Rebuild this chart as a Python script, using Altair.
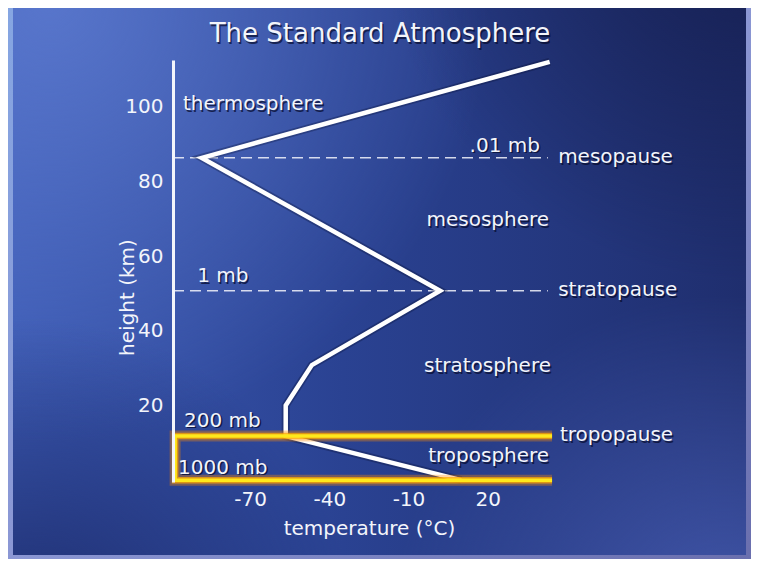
import altair as alt
import pandas as pd

# ---- data ----
# temperature profile (°C) vs height (km)
profile_temp = [10, -56.5, -56.5, -46.6, 2, -88.3, 43.5]
profile_height = [0, 11.8, 20, 30.8, 50.7, 86.3, 112]

# pause levels drawn as dashed lines
pause_heights = [86.3, 50.7]
pause_t_start = -99.2
pause_t_end = 42.8

# troposphere bracket
tropopause_height = 11.8
ground_height = 0
bracket_left = -98.4
bracket_right = 44.4

x_ticks = [-70, -40, -10, 20]
y_ticks = [20, 40, 60, 80, 100]
x_domain = [-99.2, 44.0]
y_domain = [-0.5, 112.5]

# annotations (anchor in temperature / height units)
left_labels = ["thermosphere", "mesopause", "1 mb", "stratopause", "200 mb", "tropopause", "1000 mb"]
left_temp = [-95.4, 46.7, -90.0, 46.7, -95.0, 47.4, -97.3]
left_height = [100.7, 86.4, 54.6, 50.8, 15.9, 12.0, 3.3]

right_labels = [".01 mb", "mesosphere", "stratosphere", "troposphere"]
right_temp = [39.8, 43.3, 44.0, 43.3]
right_height = [89.5, 69.6, 30.5, 6.4]

title_text = "The Standard Atmosphere"

# ---- tables ----
profile = pd.DataFrame({"t": profile_temp, "h": profile_height, "i": list(range(len(profile_temp)))})
pauses = pd.DataFrame({"t": [pause_t_start] * len(pause_heights), "t2": [pause_t_end] * len(pause_heights), "h": pause_heights})
bracket = pd.DataFrame({
    "t": [bracket_right, bracket_left, bracket_left, bracket_right],
    "h": [tropopause_height, tropopause_height, ground_height, ground_height],
    "i": [0, 1, 2, 3],
})
lefts = pd.DataFrame({"t": left_temp, "h": left_height, "label": left_labels})
rights = pd.DataFrame({"t": right_temp, "h": right_height, "label": right_labels})
one = pd.DataFrame({"title": [title_text]})

FONT = "DejaVu Sans"
WHITE = "#f3f5fb"
SHADOW = "#070c2e"

xscale = alt.Scale(domain=x_domain, nice=False, zero=False)
yscale = alt.Scale(domain=y_domain, nice=False, zero=False)

xaxis = alt.Axis(
    values=x_ticks, title="temperature (°C)", domain=False, ticks=False, tickSize=0, grid=False,
    labelColor=WHITE, labelFont=FONT, labelFontSize=20, labelPadding=7, labelFlush=False,
    labelExpr="datum.value + ''",
    titleColor=WHITE, titleFont=FONT, titleFontSize=20, titleFontWeight="normal",
    titlePadding=9, titleX=196, zindex=2,
)
yaxis = alt.Axis(
    values=y_ticks, title="height (km)", domain=True, domainColor=WHITE, domainWidth=3,
    ticks=False, tickSize=0, grid=False,
    labelColor=WHITE, labelFont=FONT, labelFontSize=20, labelPadding=10, labelFlush=False,
    titleColor=WHITE, titleFont=FONT, titleFontSize=20, titleFontWeight="normal",
    titleX=-46, titleY=237, titleAngle=270, titleBaseline="middle", titleAlign="center", zindex=2,
)

X = alt.X("t:Q", scale=xscale, axis=xaxis)
Y = alt.Y("h:Q", scale=yscale, axis=yaxis)


def stop(c, o):
    return alt.GradientStop(color=c, offset=o)


def bg_rect(fill, x0, x1, y0, y1):
    return alt.Chart(one).mark_rect(fill=fill, strokeWidth=0).encode(
        x=alt.value(x0), x2=alt.value(x1), y=alt.value(y0), y2=alt.value(y1)
    )


# outer frame and inner panel (view coordinates, view origin at page (173, 60))
frame = bg_rect(
    alt.LinearGradient(gradient="linear", x1=0, y1=0, x2=1, y2=1,
                       stops=[stop("#86a6e2", 0), stop("#8b97d4", 0.5), stop("#6a6fae", 1)]),
    -165, 578, -52, 499)
panel = bg_rect(
    alt.LinearGradient(gradient="linear", x1=0, y1=0.5, x2=1, y2=0.5,
                       stops=[stop("#3c5ab3", 0), stop("#2a4292", 0.45), stop("#1f2e6e", 1)]),
    -160, 573, -52, 495)
glow_tl = bg_rect(
    alt.RadialGradient(gradient="radial", x1=0.05, y1=0.12, r1=0, x2=0.05, y2=0.12, r2=0.6,
                       stops=[stop("rgba(100,130,215,0.7)", 0), stop("rgba(100,130,215,0)", 1)]),
    -160, 573, -52, 495)
glow_br = bg_rect(
    alt.RadialGradient(gradient="radial", x1=0.97, y1=0.97, r1=0, x2=0.97, y2=0.97, r2=0.45,
                       stops=[stop("rgba(70,92,178,0.9)", 0), stop("rgba(70,92,178,0)", 1)]),
    -160, 573, -52, 495)
dark_tr = bg_rect(
    alt.RadialGradient(gradient="radial", x1=1, y1=0, r1=0, x2=1, y2=0, r2=0.5,
                       stops=[stop("rgba(20,28,75,0.8)", 0), stop("rgba(20,28,75,0)", 1)]),
    -160, 573, -52, 495)
dark_bl = bg_rect(
    alt.RadialGradient(gradient="radial", x1=0.02, y1=1, r1=0, x2=0.02, y2=1, r2=0.45,
                       stops=[stop("rgba(18,28,85,0.75)", 0), stop("rgba(18,28,85,0)", 1)]),
    -160, 573, -52, 495)

# title
title_shadow = alt.Chart(one).mark_text(
    font=FONT, fontSize=26, color=SHADOW, opacity=0.7, align="center", baseline="alphabetic", dx=1.5, dy=1.5
).encode(x=alt.value(207), y=alt.value(-18), text="title:N")
title = alt.Chart(one).mark_text(
    font=FONT, fontSize=26, color=WHITE, align="center", baseline="alphabetic"
).encode(x=alt.value(207), y=alt.value(-18), text="title:N")

# dashed pause lines
dashes = alt.Chart(pauses).mark_rule(color=WHITE, strokeWidth=1.5, strokeDash=[11, 6], opacity=0.85).encode(
    x=X, x2="t2:Q", y=Y
)

# temperature profile
line_shadow = alt.Chart(profile).mark_line(color=SHADOW, strokeWidth=8, opacity=0.3, strokeJoin="miter").encode(
    x=X, y=Y, order="i:Q"
)
line = alt.Chart(profile).mark_line(color="#ffffff", strokeWidth=4.5, strokeJoin="miter").encode(
    x=X, y=Y, order="i:Q"
)

# troposphere bracket (glowing yellow)
br_glow1 = alt.Chart(bracket).mark_line(color="#ff8a00", strokeWidth=11, opacity=0.35, strokeJoin="miter").encode(
    x=X, y=Y, order="i:Q")
br_glow2 = alt.Chart(bracket).mark_line(color="#ffa800", strokeWidth=6.5, opacity=0.75, strokeJoin="miter").encode(
    x=X, y=Y, order="i:Q")
br_core = alt.Chart(bracket).mark_line(color="#ffe81c", strokeWidth=3.5, strokeJoin="miter").encode(
    x=X, y=Y, order="i:Q")


def labels_layer(df, align):
    sh = alt.Chart(df).mark_text(font=FONT, fontSize=20, color=SHADOW, opacity=0.75, align=align,
                                 baseline="middle", dx=1.5, dy=1.5).encode(x=X, y=Y, text="label:N")
    tx = alt.Chart(df).mark_text(font=FONT, fontSize=20, color=WHITE, align=align,
                                 baseline="middle").encode(x=X, y=Y, text="label:N")
    return [sh, tx]


layers = [frame, panel, glow_tl, dark_bl, dark_tr, glow_br, title_shadow, title,
          dashes, line_shadow, line, br_glow1, br_glow2, br_core]
layers += labels_layer(lefts, "left")
layers += labels_layer(rights, "right")

chart = alt.layer(*layers).properties(
    width=378, height=422,
    autosize=alt.AutoSizeParams(type="none"),
    padding={"left": 165, "top": 52, "right": 200, "bottom": 77},
    background="#8fa5db",
).configure_view(strokeWidth=0)

chart.save("out.html", embed_options={"renderer": "svg", "actions": False})
